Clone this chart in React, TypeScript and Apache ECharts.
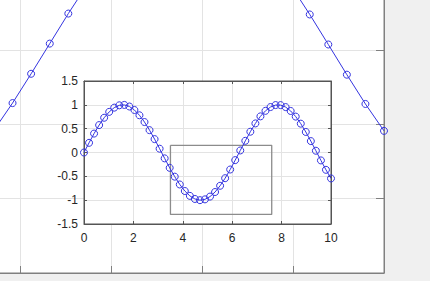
import React, { useEffect, useRef } from 'react';
import * as echarts from 'echarts';

// Samples of the plotted curve (50 points from 0 to 10)
const xs = [
  0, 0.204, 0.408, 0.612, 0.816, 1.02, 1.224, 1.429, 1.633, 1.837,
  2.041, 2.245, 2.449, 2.653, 2.857, 3.061, 3.265, 3.469, 3.673, 3.878,
  4.082, 4.286, 4.49, 4.694, 4.898, 5.102, 5.306, 5.51, 5.714, 5.918,
  6.122, 6.327, 6.531, 6.735, 6.939, 7.143, 7.347, 7.551, 7.755, 7.959,
  8.163, 8.367, 8.571, 8.776, 8.98, 9.184, 9.388, 9.592, 9.796, 10,
];
const ys = [
  0, 0.203, 0.397, 0.575, 0.729, 0.852, 0.941, 0.99, 0.998, 0.965,
  0.892, 0.781, 0.639, 0.469, 0.281, 0.08, -0.123, -0.322, -0.507, -0.671,
  -0.808, -0.91, -0.975, -1.0, -0.983, -0.925, -0.829, -0.698, -0.539, -0.357,
  -0.16, 0.043, 0.245, 0.436, 0.61, 0.758, 0.874, 0.954, 0.995, 0.994,
  0.953, 0.871, 0.753, 0.605, 0.431, 0.239, 0.037, -0.166, -0.363, -0.544,
];
// Zoom box drawn in the inset
const zoomBoxX = [3.5, 7.6];
const zoomBoxY = [-1.3, 0.15];
// Axis ranges
const xRange = [0, 10];
const yRange = [-1.5, 1.5];

export default function App() {
  const ref = useRef<HTMLDivElement>(null);
  useEffect(() => {
    document.body.style.margin = '0';
    const chart = echarts.init(ref.current!, null, { renderer: 'svg' });
    const pts = xs.map((x, i) => [x, ys[i]]);
    const boxPts = [
      [zoomBoxX[0], zoomBoxY[1]],
      [zoomBoxX[1], zoomBoxY[1]],
      [zoomBoxX[1], zoomBoxY[0]],
      [zoomBoxX[0], zoomBoxY[0]],
      [zoomBoxX[0], zoomBoxY[1]],
    ];
    const font = "'Liberation Sans', Arial, Helvetica, sans-serif";
    const blue = '#3434e0';
    const gridColor = '#e3e3e3';
    const bgAxis = '#808080';
    const inAxis = '#555555';
    const txt = '#262626';
    const lineSeries = (xi: number, yi: number, z: number) => ({
      type: 'line',
      xAxisIndex: xi,
      yAxisIndex: yi,
      data: pts,
      symbol: 'circle',
      symbolSize: 7,
      itemStyle: { color: 'transparent', borderColor: blue, borderWidth: 1 },
      lineStyle: { color: blue, width: 1 },
      clip: false,
      silent: true,
      z,
    });
    chart.setOption({
      animation: false,
      backgroundColor: '#f0f0f0',
      grid: [
        {
          left: -526, top: -173, width: 910, height: 446,
          outerBoundsMode: 'none', containLabel: false,
          show: true, backgroundColor: '#ffffff', borderColor: bgAxis, borderWidth: 1, z: 0,
        },
        {
          left: 84, top: 81, width: 247, height: 143,
          outerBoundsMode: 'none', containLabel: false,
          show: true, backgroundColor: '#ffffff', borderColor: inAxis, borderWidth: 1, z: 5,
        },
      ],
      xAxis: [
        {
          gridIndex: 0, type: 'value', min: xRange[0], max: xRange[1], interval: 1, position: 'bottom',
          axisLine: { show: true, onZero: false, lineStyle: { color: bgAxis } },
          axisTick: { show: true, inside: true, length: 7, lineStyle: { color: bgAxis } },
          axisLabel: { show: false },
          splitLine: { show: true, lineStyle: { color: gridColor } },
        },
        {
          gridIndex: 1, type: 'value', min: xRange[0], max: xRange[1], interval: 2, position: 'bottom', z: 6,
          axisLine: { show: true, onZero: false, lineStyle: { color: inAxis } },
          axisTick: { show: true, inside: true, length: 3, lineStyle: { color: inAxis } },
          axisLabel: { show: true, color: txt, fontSize: 12, fontFamily: font, margin: 8 },
          splitLine: { show: true, lineStyle: { color: gridColor } },
        },
        {
          gridIndex: 1, type: 'value', min: xRange[0], max: xRange[1], interval: 2, position: 'top', z: 6,
          axisLine: { show: true, onZero: false, lineStyle: { color: inAxis } },
          axisTick: { show: true, inside: true, length: 3, lineStyle: { color: inAxis } },
          axisLabel: { show: false },
          splitLine: { show: false },
        },
      ],
      yAxis: [
        {
          gridIndex: 0, type: 'value', min: yRange[0], max: yRange[1], interval: 0.5, position: 'right',
          axisLine: { show: true, onZero: false, lineStyle: { color: bgAxis } },
          axisTick: { show: true, inside: true, length: 8, lineStyle: { color: bgAxis } },
          axisLabel: { show: false },
          splitLine: { show: true, lineStyle: { color: gridColor } },
        },
        {
          gridIndex: 1, type: 'value', min: yRange[0], max: yRange[1], interval: 0.5, position: 'left', z: 6,
          axisLine: { show: true, onZero: false, lineStyle: { color: inAxis } },
          axisTick: { show: true, inside: true, length: 3, lineStyle: { color: inAxis } },
          axisLabel: { show: true, color: txt, fontSize: 12, fontFamily: font, margin: 6 },
          splitLine: { show: true, lineStyle: { color: gridColor } },
        },
        {
          gridIndex: 1, type: 'value', min: yRange[0], max: yRange[1], interval: 0.5, position: 'right', z: 6,
          axisLine: { show: true, onZero: false, lineStyle: { color: inAxis } },
          axisTick: { show: true, inside: true, length: 3, lineStyle: { color: inAxis } },
          axisLabel: { show: false },
          splitLine: { show: false },
        },
      ],
      series: [
        lineSeries(0, 0, 2),
        {
          type: 'line',
          xAxisIndex: 1,
          yAxisIndex: 1,
          data: boxPts,
          symbol: 'none',
          lineStyle: { color: '#8c8c8c', width: 1.3 },
          clip: false,
          silent: true,
          z: 7,
        },
        lineSeries(1, 1, 8),
      ],
    });
    return () => chart.dispose();
  }, []);
  return <div ref={ref} style={{ width: 430, height: 281 }} />;
}
